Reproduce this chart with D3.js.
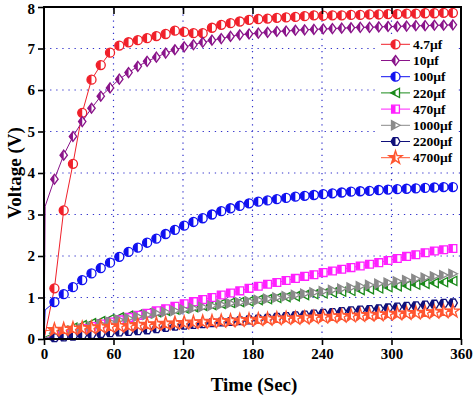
<!DOCTYPE html>
<html>
<head>
<meta charset="utf-8">
<script src="https://cdn.jsdelivr.net/npm/d3@7"></script>
<style>
  body { margin: 0; background: #fff; }
  text { font-family: "Liberation Serif", "Times New Roman", serif; font-weight: bold; }
</style>
</head>
<body>
<div id="chart"></div>
<script>
// sample times (s)
let times = [0, 1, 9, 17, 25, 33, 41, 49, 57, 65, 73, 81, 89, 97, 105, 113, 121, 129, 137, 145, 153, 161, 169, 177,
  185, 193, 201, 209, 217, 225, 233, 241, 249, 257, 265, 273, 281, 289, 297, 305, 313, 321, 329, 337, 345, 353];

let v4_7 = [0, 0.12, 1.22, 3.1, 4.22, 5.45, 6.25, 6.6, 6.9, 7.07, 7.15, 7.2, 7.25, 7.3, 7.35, 7.43, 7.4, 7.37, 7.37, 7.5,
  7.57, 7.61, 7.65, 7.69, 7.71, 7.72, 7.74, 7.75, 7.76, 7.78, 7.8, 7.79, 7.8, 7.8, 7.81, 7.81, 7.82, 7.82, 7.83, 7.83,
  7.84, 7.84, 7.85, 7.85, 7.86, 7.86];
let v10 = [0, 3.2, 3.85, 4.43, 4.88, 5.24, 5.56, 5.85, 6.05, 6.26, 6.42, 6.57, 6.69, 6.79, 6.89, 6.97, 7.04, 7.09, 7.15,
  7.2, 7.24, 7.29, 7.33, 7.35, 7.37, 7.39, 7.41, 7.42, 7.44, 7.45, 7.46, 7.47, 7.48, 7.49, 7.5, 7.51, 7.51, 7.52, 7.53,
  7.53, 7.54, 7.55, 7.55, 7.56, 7.56, 7.57];
let v100 = [0, 0.7, 0.89, 1.08, 1.25, 1.42, 1.58, 1.71, 1.84, 1.98, 2.1, 2.2, 2.32, 2.42, 2.53, 2.63, 2.73, 2.82, 2.91,
  3.0, 3.08, 3.15, 3.21, 3.27, 3.31, 3.34, 3.37, 3.4, 3.43, 3.45, 3.47, 3.49, 3.51, 3.53, 3.55, 3.56, 3.57, 3.59, 3.6,
  3.61, 3.62, 3.63, 3.64, 3.65, 3.66, 3.66];
let v220 = [0, 0.05, 0.14, 0.2, 0.27, 0.33, 0.38, 0.43, 0.48, 0.52, 0.56, 0.59, 0.62, 0.65, 0.68, 0.71, 0.74, 0.77, 0.8,
  0.82, 0.85, 0.87, 0.89, 0.91, 0.94, 0.96, 0.99, 1.01, 1.03, 1.06, 1.08, 1.1, 1.12, 1.14, 1.16, 1.18, 1.2, 1.22, 1.25,
  1.27, 1.29, 1.31, 1.33, 1.35, 1.37, 1.4];
let v470 = [0, 0.03, 0.08, 0.14, 0.2, 0.25, 0.3, 0.36, 0.41, 0.46, 0.52, 0.57, 0.62, 0.68, 0.73, 0.79, 0.85, 0.9, 0.95,
  1.0, 1.06, 1.11, 1.16, 1.22, 1.27, 1.32, 1.36, 1.41, 1.46, 1.51, 1.55, 1.6, 1.64, 1.68, 1.72, 1.76, 1.8, 1.84, 1.89,
  1.94, 1.99, 2.03, 2.08, 2.12, 2.15, 2.18];
let v1000 = [0, 0.03, 0.08, 0.14, 0.19, 0.25, 0.3, 0.36, 0.41, 0.46, 0.5, 0.54, 0.58, 0.62, 0.65, 0.68, 0.71, 0.74, 0.77,
  0.8, 0.83, 0.86, 0.88, 0.91, 0.94, 0.97, 1.0, 1.03, 1.06, 1.09, 1.12, 1.15, 1.18, 1.21, 1.24, 1.27, 1.3, 1.33, 1.36,
  1.39, 1.42, 1.45, 1.48, 1.51, 1.54, 1.57];
let v2200 = [0, 0.01, 0.03, 0.05, 0.07, 0.09, 0.11, 0.13, 0.15, 0.17, 0.18, 0.2, 0.22, 0.25, 0.28, 0.31, 0.33, 0.35, 0.37,
  0.39, 0.41, 0.42, 0.44, 0.46, 0.48, 0.5, 0.52, 0.54, 0.56, 0.58, 0.6, 0.62, 0.64, 0.66, 0.68, 0.7, 0.71, 0.73, 0.75,
  0.77, 0.79, 0.8, 0.82, 0.84, 0.86, 0.87];
let v4700 = [0, 0.2, 0.22, 0.23, 0.25, 0.26, 0.27, 0.29, 0.3, 0.31, 0.32, 0.34, 0.35, 0.36, 0.37, 0.38, 0.39, 0.4, 0.41,
  0.42, 0.43, 0.44, 0.45, 0.46, 0.47, 0.48, 0.49, 0.5, 0.5, 0.51, 0.52, 0.53, 0.54, 0.55, 0.56, 0.57, 0.58, 0.59, 0.6,
  0.61, 0.62, 0.63, 0.64, 0.65, 0.66, 0.67];

let seriesNames = ["4.7µf", "10µf", "100µf", "220µf", "470µf", "1000µf", "2200µf", "4700µf"];
let seriesValues = [v4_7, v10, v100, v220, v470, v1000, v2200, v4700];
let seriesColors = ["#f0202a", "#8a148a", "#1010f0", "#1a8a1a", "#ff20ff", "#8a8a8a", "#10107a", "#ff5530"];
let seriesShapes = ["circle", "diamond", "circle", "triLeft", "square", "triRight", "hexagon", "star"];

let xTicks = [0, 60, 120, 180, 240, 300, 360];
let yTicks = [0, 1, 2, 3, 4, 5, 6, 7, 8];

let svgWidth = 474;
let svgHeight = 397;
let margin = { top: 7, right: 13, bottom: 58, left: 44 };

let svg = d3.select("#chart").append("svg")
  .attr("width", svgWidth)
  .attr("height", svgHeight);

let x = d3.scaleLinear().domain([0, 360]).range([margin.left, svgWidth - margin.right]);
let y = d3.scaleLinear().domain([0, 8]).range([svgHeight - margin.bottom, margin.top]);

// clip for half-filled markers
svg.append("defs").append("clipPath")
  .attr("id", "leftHalf")
  .append("rect")
  .attr("x", -8).attr("y", -8).attr("width", 8).attr("height", 16);

// grid
let gridColor = "#3333cc";
svg.append("g").selectAll("line")
  .data(xTicks.slice(1, -1))
  .join("line")
  .attr("x1", d => x(d)).attr("x2", d => x(d))
  .attr("y1", y(0)).attr("y2", y(8))
  .attr("stroke", gridColor).attr("stroke-width", 1.2)
  .attr("stroke-dasharray", "1.3,4.8");
svg.append("g").selectAll("line")
  .data(yTicks.slice(1, -1))
  .join("line")
  .attr("y1", d => y(d)).attr("y2", d => y(d))
  .attr("x1", x(0)).attr("x2", x(360))
  .attr("stroke", gridColor).attr("stroke-width", 1.2)
  .attr("stroke-dasharray", "1.3,4.8");

function shapePath(kind) {
  if (kind === "circle") return d3.symbol(d3.symbolCircle, 64)();
  if (kind === "diamond") return "M0,-5L3.7,0L0,5L-3.7,0Z";
  if (kind === "triLeft") return "M-4.6,0L4,-4.6L4,4.6Z";
  if (kind === "triRight") return "M4.6,0L-4,-4.6L-4,4.6Z";
  if (kind === "square") return "M-3.9,-3.9H3.9V3.9H-3.9Z";
  if (kind === "hexagon") return "M4.5,0L2.25,3.9L-2.25,3.9L-4.5,0L-2.25,-3.9L2.25,-3.9Z";
  return d3.symbol(d3.symbolStar, 55)();
}

function drawMarker(g, kind, color) {
  let p = shapePath(kind);
  g.append("path").attr("d", p).attr("fill", "#fff")
    .attr("stroke", color).attr("stroke-width", 1.3);
  g.append("path").attr("d", p).attr("fill", color)
    .attr("clip-path", "url(#leftHalf)");
}

let line = d3.line()
  .x((d, i) => x(times[i]))
  .y(d => y(d));

seriesValues.forEach(function(vals, k) {
  let color = seriesColors[k];
  let g = svg.append("g");
  g.append("path")
    .attr("d", line(vals))
    .attr("fill", "none")
    .attr("stroke", color)
    .attr("stroke-width", 1);
  vals.forEach(function(v, i) {
    if (i < 2) return;
    let m = g.append("g").attr("transform", `translate(${x(times[i])},${y(v)})`);
    drawMarker(m, seriesShapes[k], color);
  });
});

// axes
let bottomAxis = d3.axisBottom(x).tickValues(xTicks).tickSize(6).tickSizeOuter(0);
let leftAxis = d3.axisLeft(y).tickValues(yTicks).tickSize(6).tickSizeOuter(0);
let topAxis = d3.axisBottom(x).tickValues(xTicks.slice(1, -1)).tickSize(7).tickFormat("").tickSizeOuter(0);

let xaxis = svg.append("g")
  .attr("transform", `translate(0,${y(0)})`)
  .call(bottomAxis);
let yaxis = svg.append("g")
  .attr("transform", `translate(${x(0)},0)`)
  .call(leftAxis);
let taxis = svg.append("g")
  .attr("transform", `translate(0,${y(8)})`)
  .call(topAxis);

[xaxis, yaxis, taxis].forEach(a => {
  a.selectAll(".domain").remove();
  a.selectAll(".tick line").attr("stroke", "#000").attr("stroke-width", 1.6);
  a.selectAll("text").attr("font-size", 15).attr("fill", "#000")
    .style("font-family", "'Liberation Serif', serif").style("font-weight", "bold");
});
xaxis.selectAll("text").attr("dy", "0.71em").attr("y", 9);
yaxis.selectAll("text").attr("x", -9)
  .attr("y", d => d === 8 ? 2 : 0);

// frame
svg.append("rect")
  .attr("x", x(0)).attr("y", y(8))
  .attr("width", x(360) - x(0)).attr("height", y(0) - y(8))
  .attr("fill", "none").attr("stroke", "#000").attr("stroke-width", 2);

// axis titles
svg.append("text")
  .attr("x", 254)
  .attr("y", 391)
  .attr("text-anchor", "middle")
  .attr("font-size", 19)
  .text("Time (Sec)");

svg.append("text")
  .attr("transform", `translate(21,${(y(0) + y(8)) / 2}) rotate(-90)`)
  .attr("text-anchor", "middle")
  .attr("font-size", 19)
  .text("Voltage (V)");

// legend
let legend = svg.append("g");
legend.append("rect")
  .attr("x", 376).attr("y", 35).attr("width", 81).attr("height", 131)
  .attr("fill", "#fff");
seriesNames.forEach(function(name, k) {
  let ly = 44.3 + k * 16.2;
  let lg = legend.append("g");
  lg.append("line")
    .attr("x1", 381).attr("x2", 410)
    .attr("y1", ly).attr("y2", ly)
    .attr("stroke", seriesColors[k]).attr("stroke-width", 1);
  let m = lg.append("g").attr("transform", `translate(395.5,${ly})`);
  drawMarker(m, seriesShapes[k], seriesColors[k]);
  lg.append("text")
    .attr("x", 413).attr("y", ly)
    .attr("dy", "0.35em")
    .attr("font-size", 13.5)
    .text(name);
});
</script>
</body>
</html>
